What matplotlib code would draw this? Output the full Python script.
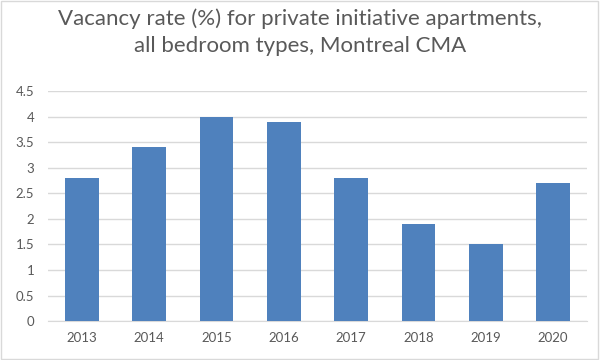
import matplotlib
matplotlib.use("Agg")
import matplotlib.pyplot as plt
import numpy as np

years = ["2013", "2014", "2015", "2016", "2017", "2018", "2019", "2020"]
vacancy = [2.8, 3.4, 4.0, 3.9, 2.8, 1.9, 1.5, 2.7]
y_ticks = [0, 0.5, 1, 1.5, 2, 2.5, 3, 3.5, 4, 4.5]
y_labels = ["0", "0.5", "1", "1.5", "2", "2.5", "3", "3.5", "4", "4.5"]

plt.rcParams["font.family"] = ["Lato", "DejaVu Sans"]

fig = plt.figure(figsize=(6, 3.6), dpi=100)
ax = fig.add_axes([0.08, 0.108, 0.898, 0.639])

x = np.arange(len(years))
ax.bar(x, vacancy, width=0.5, color="#4F81BD", zorder=3)

ax.set_xlim(-0.5, len(years) - 0.5)
ax.set_ylim(0, 4.5)
ax.set_yticks(y_ticks)
ax.set_yticklabels(y_labels)
ax.set_xticks(x)
ax.set_xticklabels(years)
ax.grid(axis="y", color="#D9D9D9", linewidth=1, zorder=0)
for side in ["top", "right", "left"]:
    ax.spines[side].set_visible(False)
ax.spines["bottom"].set_color("#D9D9D9")
ax.tick_params(axis="both", length=0, colors="#595959", labelsize=9.5)
ax.tick_params(axis="x", pad=8)
ax.tick_params(axis="y", pad=10)

fig.text(0.5, 0.91, "Vacancy rate (%) for private initiative apartments,\nall bedroom types, Montreal CMA",
         ha="center", va="center", fontsize=16, color="#595959", linespacing=1.45)

fig.patches.append(plt.Rectangle((0.002, 0.003), 0.995, 0.994, transform=fig.transFigure,
                                 fill=False, edgecolor="#D9D9D9", linewidth=1))

fig.savefig("out.png", dpi=100)
